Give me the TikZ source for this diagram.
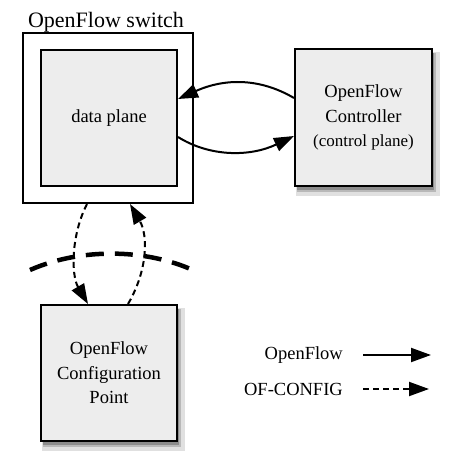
\documentclass[tikz,border=0pt]{standalone}
\usepackage{fontspec}
\setmainfont{Liberation Serif}
\usetikzlibrary{arrows.meta,shadows}
\definecolor{boxgray}{HTML}{EDEDED}
\tikzset{
  plane/.style={draw, line width=2pt, fill=boxgray, minimum width=136pt, minimum height=136pt, inner sep=0pt, align=center, font=\fontsize{18.5}{24.5}\selectfont},
  shadowed/.style={
    general shadow={shadow xshift=4pt, shadow yshift=-6pt, shadow scale=1.05, fill=black!12, draw=none},
    general shadow={shadow xshift=3pt, shadow yshift=-5pt, shadow scale=1.02, fill=black!28, draw=none},
    general shadow={shadow xshift=2pt, shadow yshift=-4pt, fill=black!45, draw=none}},
  ofarrow/.style={line width=2pt, -{Triangle[length=20pt,width=14pt]}},
  cfgarrow/.style={ofarrow, dash pattern=on 6pt off 4pt},
  legend/.style={inner sep=0pt, anchor=east, font=\fontsize{18.5}{24.5}\selectfont}
}
\begin{document}
\begin{tikzpicture}[x=1pt,y=-1pt]
\useasboundingbox (0,0) rectangle (474,474);
\node[draw, line width=2pt, minimum width=170pt, minimum height=170pt, inner sep=0pt] (sw) at (108,118){};
\node[anchor=base, inner sep=0pt, font=\fontsize{22}{26}\selectfont] (swlabel) at (106,27){OpenFlow switch};
\node[plane] (dp) at (109,118){data plane};
\node[plane, shadowed, minimum width=137pt, minimum height=137pt] (ctrl) at (363.5,117.5){OpenFlow\\Controller\\{\fontsize{17}{20}\selectfont(control plane)}};
\node[plane, shadowed] (cfg) at (109,373){OpenFlow\\Configuration\\Point};
\draw[ofarrow] ([yshift=19.5pt]ctrl.west) .. controls (260,78) and (225,78) .. ([yshift=19pt]dp.east);
\draw[ofarrow] ([yshift=-19pt]dp.east) .. controls (210,157) and (250,157) .. ([yshift=-18.5pt]ctrl.west);
\draw[cfgarrow] ([xshift=-21pt]sw.south) .. controls (71,235) and (71,275) .. ([xshift=-21pt]cfg.north);
\draw[cfgarrow] ([xshift=19pt]cfg.north) .. controls (148,270) and (148,235) .. ([xshift=22pt]sw.south);
\draw[line width=4.5pt, dash pattern=on 18pt off 11pt] (30,270) .. controls (80,248) and (145,248) .. (195,271);
\node[legend] (oflabel) at (343,355){OpenFlow};
\node[legend] (cfglabel) at (343,389){OF-CONFIG};
\draw[ofarrow] ([xshift=20pt]oflabel.east) -- ([xshift=88pt]oflabel.east);
\draw[cfgarrow] ([xshift=20pt]cfglabel.east) -- ([xshift=86pt]cfglabel.east);
\end{tikzpicture}
\end{document}
